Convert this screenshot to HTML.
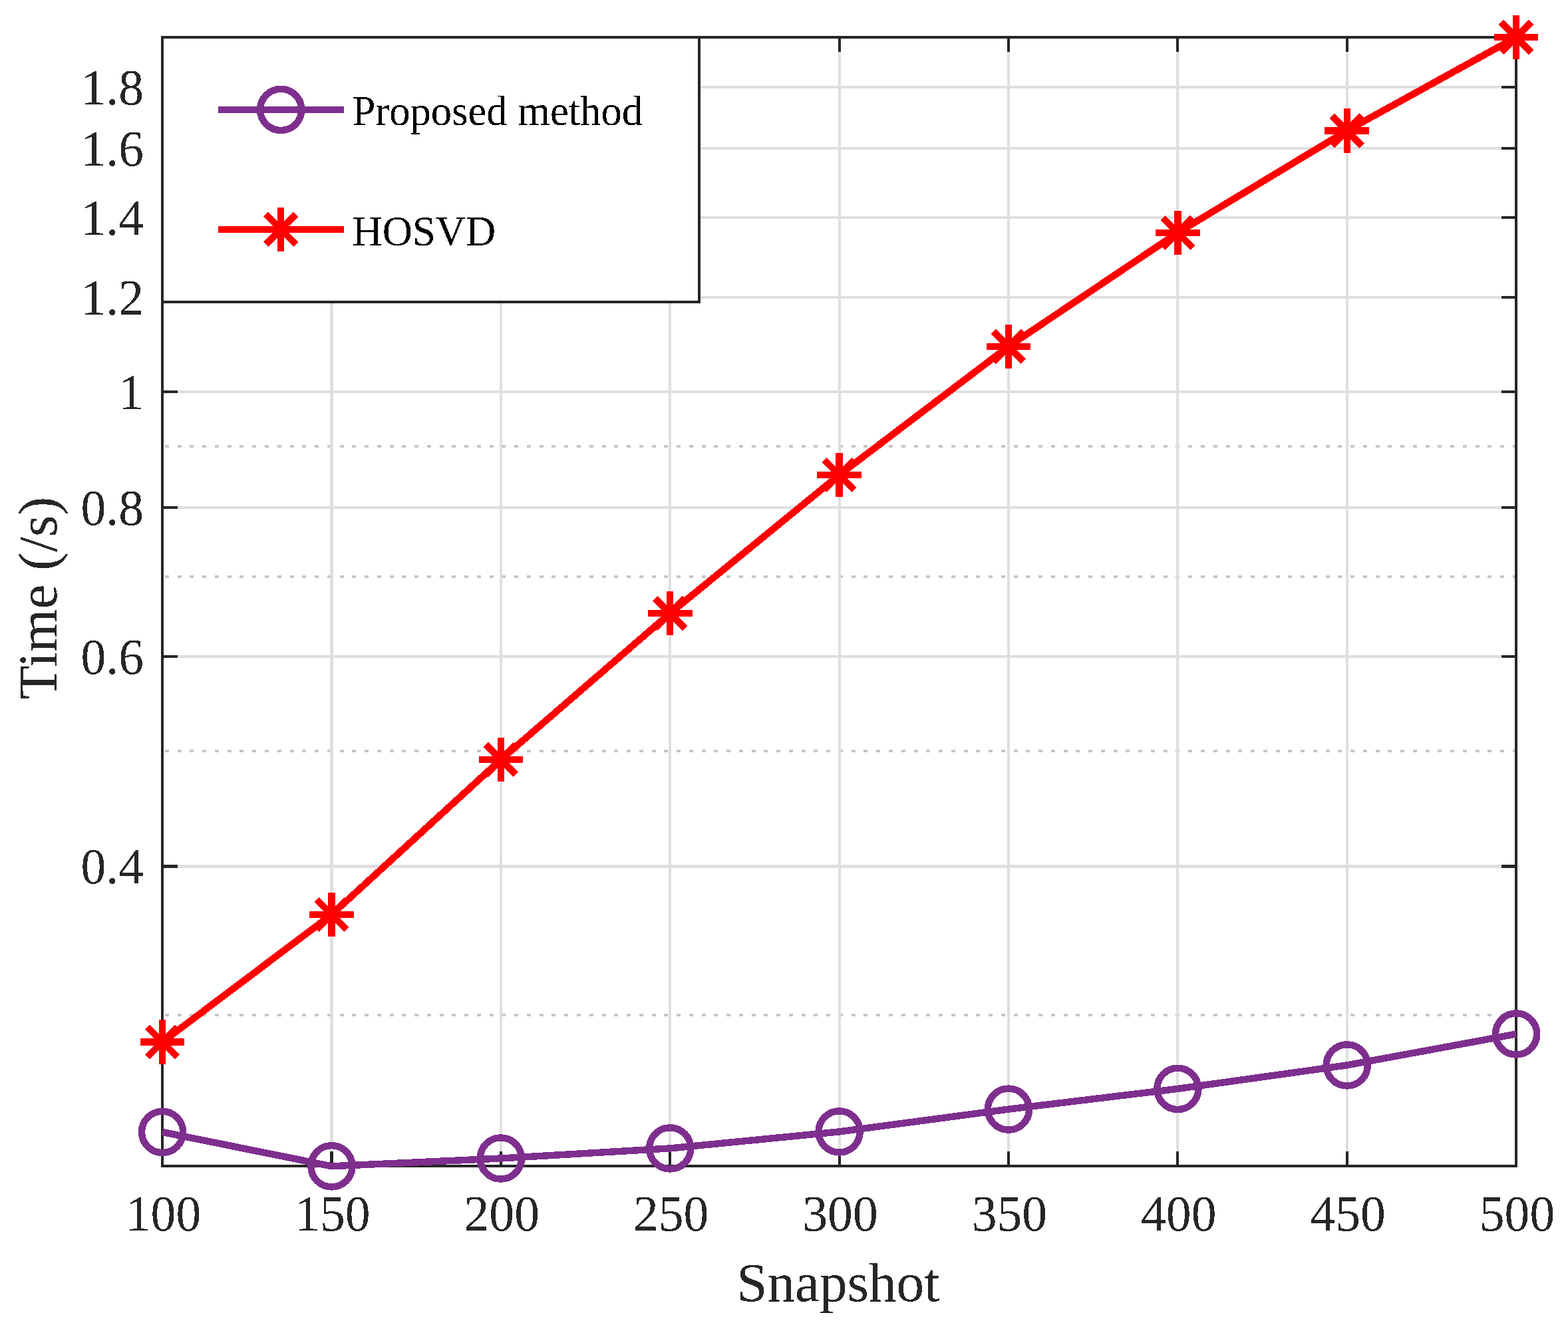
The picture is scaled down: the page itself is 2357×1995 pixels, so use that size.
<!DOCTYPE html>
<html><head><meta charset="utf-8"><title>Time vs Snapshot</title>
<style>html,body{margin:0;padding:0;background:#fff;overflow:hidden;}svg{display:block;}</style>
</head><body>
<svg width="2357" height="1995" viewBox="0 0 2357 1995">
<defs><filter id="bin" x="0" y="0" width="1" height="1" filterUnits="objectBoundingBox"><feComponentTransfer><feFuncA type="discrete" tableValues="0 1"/></feComponentTransfer></filter></defs>
<rect x="0" y="0" width="2357" height="1995" fill="#fff"/>
<g shape-rendering="crispEdges">
<line x1="244.0" y1="1526.40" x2="2279.0" y2="1526.40" stroke="#C6C6C6" stroke-width="4.17" stroke-dasharray="6 12.76" stroke-dashoffset="14.86"/>
<line x1="244.0" y1="1128.68" x2="2279.0" y2="1128.68" stroke="#C6C6C6" stroke-width="4.17" stroke-dasharray="6 12.76" stroke-dashoffset="14.86"/>
<line x1="244.0" y1="866.67" x2="2279.0" y2="866.67" stroke="#C6C6C6" stroke-width="4.17" stroke-dasharray="6 12.76" stroke-dashoffset="14.86"/>
<line x1="244.0" y1="670.97" x2="2279.0" y2="670.97" stroke="#C6C6C6" stroke-width="4.17" stroke-dasharray="6 12.76" stroke-dashoffset="14.86"/>
<line x1="244.0" y1="1302.44" x2="2279.0" y2="1302.44" stroke="#DFDFDF" stroke-width="4.17"/>
<line x1="244.0" y1="986.70" x2="2279.0" y2="986.70" stroke="#DFDFDF" stroke-width="4.17"/>
<line x1="244.0" y1="762.69" x2="2279.0" y2="762.69" stroke="#DFDFDF" stroke-width="4.17"/>
<line x1="244.0" y1="588.93" x2="2279.0" y2="588.93" stroke="#DFDFDF" stroke-width="4.17"/>
<line x1="244.0" y1="446.96" x2="2279.0" y2="446.96" stroke="#DFDFDF" stroke-width="4.17"/>
<line x1="244.0" y1="326.92" x2="2279.0" y2="326.92" stroke="#DFDFDF" stroke-width="4.17"/>
<line x1="244.0" y1="222.94" x2="2279.0" y2="222.94" stroke="#DFDFDF" stroke-width="4.17"/>
<line x1="244.0" y1="131.23" x2="2279.0" y2="131.23" stroke="#DFDFDF" stroke-width="4.17"/>
<line x1="498.475" y1="56.0" x2="498.475" y2="1753.0" stroke="#DFDFDF" stroke-width="4.17"/>
<line x1="752.850" y1="56.0" x2="752.850" y2="1753.0" stroke="#DFDFDF" stroke-width="4.17"/>
<line x1="1007.225" y1="56.0" x2="1007.225" y2="1753.0" stroke="#DFDFDF" stroke-width="4.17"/>
<line x1="1261.600" y1="56.0" x2="1261.600" y2="1753.0" stroke="#DFDFDF" stroke-width="4.17"/>
<line x1="1515.975" y1="56.0" x2="1515.975" y2="1753.0" stroke="#DFDFDF" stroke-width="4.17"/>
<line x1="1770.350" y1="56.0" x2="1770.350" y2="1753.0" stroke="#DFDFDF" stroke-width="4.17"/>
<line x1="2024.725" y1="56.0" x2="2024.725" y2="1753.0" stroke="#DFDFDF" stroke-width="4.17"/>
<line x1="244.0" y1="1302.44" x2="267" y2="1302.44" stroke="#262626" stroke-width="4.17"/>
<line x1="2257.0" y1="1302.44" x2="2279.0" y2="1302.44" stroke="#262626" stroke-width="4.17"/>
<line x1="244.0" y1="986.70" x2="267" y2="986.70" stroke="#262626" stroke-width="4.17"/>
<line x1="2257.0" y1="986.70" x2="2279.0" y2="986.70" stroke="#262626" stroke-width="4.17"/>
<line x1="244.0" y1="762.69" x2="267" y2="762.69" stroke="#262626" stroke-width="4.17"/>
<line x1="2257.0" y1="762.69" x2="2279.0" y2="762.69" stroke="#262626" stroke-width="4.17"/>
<line x1="244.0" y1="588.93" x2="267" y2="588.93" stroke="#262626" stroke-width="4.17"/>
<line x1="2257.0" y1="588.93" x2="2279.0" y2="588.93" stroke="#262626" stroke-width="4.17"/>
<line x1="244.0" y1="446.96" x2="267" y2="446.96" stroke="#262626" stroke-width="4.17"/>
<line x1="2257.0" y1="446.96" x2="2279.0" y2="446.96" stroke="#262626" stroke-width="4.17"/>
<line x1="244.0" y1="326.92" x2="267" y2="326.92" stroke="#262626" stroke-width="4.17"/>
<line x1="2257.0" y1="326.92" x2="2279.0" y2="326.92" stroke="#262626" stroke-width="4.17"/>
<line x1="244.0" y1="222.94" x2="267" y2="222.94" stroke="#262626" stroke-width="4.17"/>
<line x1="2257.0" y1="222.94" x2="2279.0" y2="222.94" stroke="#262626" stroke-width="4.17"/>
<line x1="244.0" y1="131.23" x2="267" y2="131.23" stroke="#262626" stroke-width="4.17"/>
<line x1="2257.0" y1="131.23" x2="2279.0" y2="131.23" stroke="#262626" stroke-width="4.17"/>
<line x1="498.475" y1="1753.0" x2="498.475" y2="1731.0" stroke="#262626" stroke-width="4.17"/>
<line x1="498.475" y1="56.0" x2="498.475" y2="78.0" stroke="#262626" stroke-width="4.17"/>
<line x1="752.850" y1="1753.0" x2="752.850" y2="1731.0" stroke="#262626" stroke-width="4.17"/>
<line x1="752.850" y1="56.0" x2="752.850" y2="78.0" stroke="#262626" stroke-width="4.17"/>
<line x1="1007.225" y1="1753.0" x2="1007.225" y2="1731.0" stroke="#262626" stroke-width="4.17"/>
<line x1="1007.225" y1="56.0" x2="1007.225" y2="78.0" stroke="#262626" stroke-width="4.17"/>
<line x1="1261.600" y1="1753.0" x2="1261.600" y2="1731.0" stroke="#262626" stroke-width="4.17"/>
<line x1="1261.600" y1="56.0" x2="1261.600" y2="78.0" stroke="#262626" stroke-width="4.17"/>
<line x1="1515.975" y1="1753.0" x2="1515.975" y2="1731.0" stroke="#262626" stroke-width="4.17"/>
<line x1="1515.975" y1="56.0" x2="1515.975" y2="78.0" stroke="#262626" stroke-width="4.17"/>
<line x1="1770.350" y1="1753.0" x2="1770.350" y2="1731.0" stroke="#262626" stroke-width="4.17"/>
<line x1="1770.350" y1="56.0" x2="1770.350" y2="78.0" stroke="#262626" stroke-width="4.17"/>
<line x1="2024.725" y1="1753.0" x2="2024.725" y2="1731.0" stroke="#262626" stroke-width="4.17"/>
<line x1="2024.725" y1="56.0" x2="2024.725" y2="78.0" stroke="#262626" stroke-width="4.17"/>
<rect x="244.0" y="56.0" width="2035.0" height="1697.0" fill="none" stroke="#262626" stroke-width="4.17"/>
</g>
<g filter="url(#bin)" style="font-family:'Liberation Serif','Times New Roman',serif">
<text x="216" y="1328.44" text-anchor="end" font-size="75.6" fill="#262626">0.4</text>
<text x="216" y="1012.70" text-anchor="end" font-size="75.6" fill="#262626">0.6</text>
<text x="216" y="788.69" text-anchor="end" font-size="75.6" fill="#262626">0.8</text>
<text x="216" y="614.93" text-anchor="end" font-size="75.6" fill="#262626">1</text>
<text x="216" y="472.96" text-anchor="end" font-size="75.6" fill="#262626">1.2</text>
<text x="216" y="352.92" text-anchor="end" font-size="75.6" fill="#262626">1.4</text>
<text x="216" y="248.94" text-anchor="end" font-size="75.6" fill="#262626">1.6</text>
<text x="216" y="157.23" text-anchor="end" font-size="75.6" fill="#262626">1.8</text>
<text x="245.50" y="1850.3" text-anchor="middle" font-size="75.6" fill="#262626">100</text>
<text x="499.88" y="1850.3" text-anchor="middle" font-size="75.6" fill="#262626">150</text>
<text x="754.25" y="1850.3" text-anchor="middle" font-size="75.6" fill="#262626">200</text>
<text x="1008.62" y="1850.3" text-anchor="middle" font-size="75.6" fill="#262626">250</text>
<text x="1263.00" y="1850.3" text-anchor="middle" font-size="75.6" fill="#262626">300</text>
<text x="1517.38" y="1850.3" text-anchor="middle" font-size="75.6" fill="#262626">350</text>
<text x="1771.75" y="1850.3" text-anchor="middle" font-size="75.6" fill="#262626">400</text>
<text x="2026.13" y="1850.3" text-anchor="middle" font-size="75.6" fill="#262626">450</text>
<text x="2280.50" y="1850.3" text-anchor="middle" font-size="75.6" fill="#262626">500</text>
<text x="1259.8" y="1956.4" text-anchor="middle" font-size="83.2" fill="#262626">Snapshot</text>
<text transform="translate(84.7,899) rotate(-90)" x="0" y="0" text-anchor="middle" font-size="83.2" fill="#262626">Time (/s)</text>
</g>
<g shape-rendering="crispEdges">
<polyline points="244.10,1701.90 498.48,1753.30 752.85,1741.50 1007.23,1726.40 1261.60,1701.40 1515.97,1667.60 1770.35,1636.90 2024.73,1601.40 2279.10,1554.50" fill="none" stroke="#7E2F8E" stroke-width="10.42" stroke-linejoin="round"/>
<circle cx="244.10" cy="1701.90" r="31.1" fill="none" stroke="#7E2F8E" stroke-width="10.42"/>
<circle cx="498.48" cy="1753.30" r="31.1" fill="none" stroke="#7E2F8E" stroke-width="10.42"/>
<circle cx="752.85" cy="1741.50" r="31.1" fill="none" stroke="#7E2F8E" stroke-width="10.42"/>
<circle cx="1007.23" cy="1726.40" r="31.1" fill="none" stroke="#7E2F8E" stroke-width="10.42"/>
<circle cx="1261.60" cy="1701.40" r="31.1" fill="none" stroke="#7E2F8E" stroke-width="10.42"/>
<circle cx="1515.97" cy="1667.60" r="31.1" fill="none" stroke="#7E2F8E" stroke-width="10.42"/>
<circle cx="1770.35" cy="1636.90" r="31.1" fill="none" stroke="#7E2F8E" stroke-width="10.42"/>
<circle cx="2024.73" cy="1601.40" r="31.1" fill="none" stroke="#7E2F8E" stroke-width="10.42"/>
<circle cx="2279.10" cy="1554.50" r="31.1" fill="none" stroke="#7E2F8E" stroke-width="10.42"/>
<polyline points="244.10,1566.50 498.48,1375.00 752.85,1142.00 1007.23,922.00 1261.60,714.00 1515.97,520.90 1770.35,349.90 2024.73,196.40 2279.10,56.00" fill="none" stroke="#FF0000" stroke-width="10.42" stroke-linejoin="round"/>
<path d="M210.80 1566.50H277.40M244.10 1533.20V1599.80M221.55 1543.95L266.65 1589.05M221.55 1589.05L266.65 1543.95" stroke="#FF0000" stroke-width="10.42" fill="none" stroke-linecap="butt"/>
<path d="M465.18 1375.00H531.77M498.48 1341.70V1408.30M475.93 1352.45L521.02 1397.55M475.93 1397.55L521.02 1352.45" stroke="#FF0000" stroke-width="10.42" fill="none" stroke-linecap="butt"/>
<path d="M719.55 1142.00H786.15M752.85 1108.70V1175.30M730.30 1119.45L775.40 1164.55M730.30 1164.55L775.40 1119.45" stroke="#FF0000" stroke-width="10.42" fill="none" stroke-linecap="butt"/>
<path d="M973.93 922.00H1040.53M1007.23 888.70V955.30M984.68 899.45L1029.78 944.55M984.68 944.55L1029.78 899.45" stroke="#FF0000" stroke-width="10.42" fill="none" stroke-linecap="butt"/>
<path d="M1228.30 714.00H1294.90M1261.60 680.70V747.30M1239.05 691.45L1284.15 736.55M1239.05 736.55L1284.15 691.45" stroke="#FF0000" stroke-width="10.42" fill="none" stroke-linecap="butt"/>
<path d="M1482.67 520.90H1549.27M1515.97 487.60V554.20M1493.42 498.35L1538.52 543.45M1493.42 543.45L1538.52 498.35" stroke="#FF0000" stroke-width="10.42" fill="none" stroke-linecap="butt"/>
<path d="M1737.05 349.90H1803.65M1770.35 316.60V383.20M1747.80 327.35L1792.90 372.45M1747.80 372.45L1792.90 327.35" stroke="#FF0000" stroke-width="10.42" fill="none" stroke-linecap="butt"/>
<path d="M1991.43 196.40H2058.03M2024.73 163.10V229.70M2002.18 173.85L2047.28 218.95M2002.18 218.95L2047.28 173.85" stroke="#FF0000" stroke-width="10.42" fill="none" stroke-linecap="butt"/>
<path d="M2245.80 56.00H2312.40M2279.10 22.70V89.30M2256.55 33.45L2301.65 78.55M2256.55 78.55L2301.65 33.45" stroke="#FF0000" stroke-width="10.42" fill="none" stroke-linecap="butt"/>
<rect x="244.0" y="56.0" width="807.0" height="397.9" fill="#fff" stroke="#262626" stroke-width="4.17"/>
<line x1="327.9" y1="164.9" x2="517" y2="164.9" stroke="#7E2F8E" stroke-width="10.42"/>
<circle cx="422.20" cy="164.90" r="31.1" fill="none" stroke="#7E2F8E" stroke-width="10.42"/>
<line x1="327.9" y1="344.8" x2="517" y2="344.8" stroke="#FF0000" stroke-width="10.42"/>
<path d="M388.90 344.80H455.50M422.20 311.50V378.10M399.65 322.25L444.75 367.35M399.65 367.35L444.75 322.25" stroke="#FF0000" stroke-width="10.42" fill="none" stroke-linecap="butt"/>
</g>
<g filter="url(#bin)" style="font-family:'Liberation Serif','Times New Roman',serif">
<text x="529.6" y="188.4" font-size="62.6" fill="#000">Proposed method</text>
<text x="529.6" y="369.1" font-size="62.6" fill="#000">HOSVD</text>
</g>
</svg>
</body></html>
